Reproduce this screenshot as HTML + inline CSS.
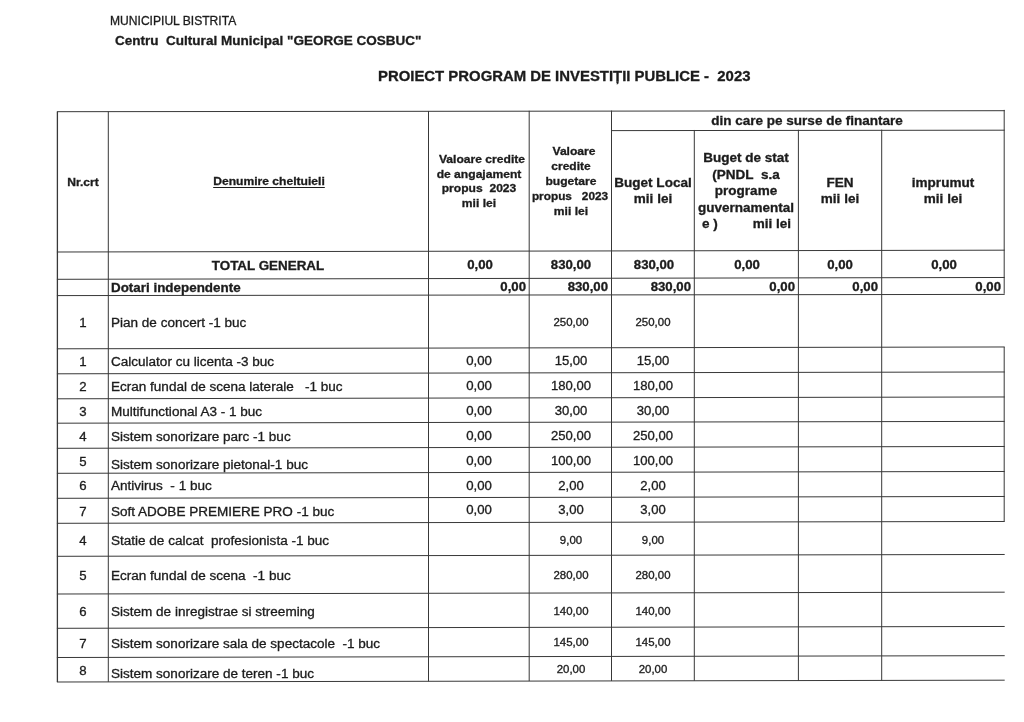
<!DOCTYPE html>
<html lang="ro">
<head>
<meta charset="utf-8">
<title>Proiect program de investitii publice - 2023</title>
<style>
html,body{margin:0;padding:0;background:#fff;}
body{width:1024px;height:722px;overflow:hidden;position:relative;font-family:"Liberation Sans",sans-serif;color:#1c1c1c;}
svg{position:absolute;left:0;top:0;}
#txt{position:absolute;left:0;top:0;width:1024px;height:722px;will-change:transform;}
.t{position:absolute;white-space:pre;line-height:normal;transform-origin:0 0;-webkit-text-stroke:0.3px #1c1c1c;}
</style>
</head>
<body>
<svg width="1024" height="722" viewBox="0 0 1024 722"><g stroke="#383838" fill="none" stroke-linecap="butt">
<line x1="56.90" y1="111.70" x2="1004.70" y2="110.70" stroke-width="1.0"/>
<line x1="611.50" y1="130.61" x2="1004.70" y2="130.20" stroke-width="1.0"/>
<line x1="56.90" y1="295.60" x2="1004.70" y2="294.40" stroke-width="1.0"/>
<line x1="56.90" y1="252.00" x2="1004.70" y2="250.18" stroke-width="1.0"/>
<line x1="56.90" y1="279.30" x2="1004.70" y2="277.48" stroke-width="1.0"/>
<line x1="56.90" y1="348.80" x2="1004.70" y2="346.98" stroke-width="1.0"/>
<line x1="56.90" y1="373.80" x2="1004.70" y2="371.98" stroke-width="1.0"/>
<line x1="56.90" y1="398.80" x2="1004.70" y2="396.98" stroke-width="1.0"/>
<line x1="56.90" y1="423.20" x2="1004.70" y2="421.38" stroke-width="1.0"/>
<line x1="56.90" y1="448.30" x2="1004.70" y2="446.48" stroke-width="1.0"/>
<line x1="56.90" y1="473.30" x2="1004.70" y2="471.48" stroke-width="1.0"/>
<line x1="56.90" y1="498.30" x2="1004.70" y2="496.48" stroke-width="1.0"/>
<line x1="56.90" y1="523.30" x2="1004.70" y2="521.48" stroke-width="1.0"/>
<line x1="56.90" y1="556.30" x2="1004.70" y2="554.48" stroke-width="1.0"/>
<line x1="56.90" y1="594.00" x2="1004.70" y2="592.18" stroke-width="1.0"/>
<line x1="56.90" y1="628.30" x2="1004.70" y2="626.48" stroke-width="1.0"/>
<line x1="56.90" y1="657.50" x2="1004.70" y2="655.68" stroke-width="1.0"/>
<line x1="56.90" y1="682.00" x2="1004.70" y2="680.18" stroke-width="1.0"/>
<line x1="57.40" y1="111.70" x2="57.40" y2="682.00" stroke-width="1.3"/>
<line x1="108.30" y1="111.60" x2="108.30" y2="681.90" stroke-width="1.0"/>
<line x1="428.50" y1="110.99" x2="428.50" y2="681.29" stroke-width="1.0"/>
<line x1="529.20" y1="110.79" x2="529.20" y2="681.09" stroke-width="1.0"/>
<line x1="611.50" y1="110.64" x2="611.50" y2="680.94" stroke-width="1.0"/>
<line x1="694.30" y1="129.98" x2="694.30" y2="680.78" stroke-width="1.0"/>
<line x1="798.40" y1="129.78" x2="798.40" y2="680.58" stroke-width="1.0"/>
<line x1="881.70" y1="129.62" x2="881.70" y2="680.42" stroke-width="1.0"/>
<line x1="1004.20" y1="109.88" x2="1004.20" y2="293.78" stroke-width="1.0"/>
<line x1="1004.20" y1="346.98" x2="1004.20" y2="521.48" stroke-width="1.0"/>
</g></svg>
<div id="txt">
<div class="t" style="left:110.0px;top:14.44px;font-size:12px;transform:scale(1.007,1.0)">MUNICIPIUL BISTRITA</div>
<div class="t" style="left:114.6px;top:33.23px;font-size:13px;font-weight:bold;transform:scale(1.04,1.0)">Centru  Cultural Municipal "GEORGE COSBUC"</div>
<div class="t" style="left:377.8px;top:68.13px;font-size:14px;font-weight:bold;transform:scale(1.064,1.0)">PROIECT PROGRAM DE INVESTIȚII PUBLICE -  2023</div>
<div class="t" style="left:83.2px;top:175.64px;font-size:11px;font-weight:bold;transform:scale(1.1,1.0) translateX(-50%)">Nr.crt</div>
<div class="t" style="left:269px;top:175.24px;font-size:11px;font-weight:bold;text-decoration:underline;text-underline-offset:2.2px;text-decoration-thickness:1px;transform:scale(1.1,1.0) translateX(-50%)">Denumire cheltuieli</div>
<div class="t" style="left:482px;top:152.64px;font-size:11px;font-weight:bold;transform:scale(1.1,1.0) translateX(-50%)">Valoare credite</div>
<div class="t" style="left:479px;top:167.54px;font-size:11px;font-weight:bold;transform:scale(1.1,1.0) translateX(-50%)">de angajament</div>
<div class="t" style="left:479px;top:182.44px;font-size:11px;font-weight:bold;transform:scale(1.1,1.0) translateX(-50%)">propus  2023</div>
<div class="t" style="left:478.8px;top:197.34px;font-size:11px;font-weight:bold;transform:scale(1.1,1.0) translateX(-50%)">mii lei</div>
<div class="t" style="left:573.5px;top:145.34px;font-size:11px;font-weight:bold;transform:scale(1.1,1.0) translateX(-50%)">Valoare</div>
<div class="t" style="left:570.8px;top:160.19px;font-size:11px;font-weight:bold;transform:scale(1.09,1.0) translateX(-50%)">credite</div>
<div class="t" style="left:571px;top:175.04px;font-size:11px;font-weight:bold;transform:scale(1.1,1.0) translateX(-50%)">bugetare</div>
<div class="t" style="left:569.9px;top:189.90px;font-size:11px;font-weight:bold;transform:scale(1.075,1.0) translateX(-50%)">propus   2023</div>
<div class="t" style="left:571px;top:204.75px;font-size:11px;font-weight:bold;transform:scale(1.1,1.0) translateX(-50%)">mii lei</div>
<div class="t" style="left:807.4px;top:114.07px;font-size:12.3px;font-weight:bold;transform:scale(1.1,1.0) translateX(-50%)">din care pe surse de finantare</div>
<div class="t" style="left:652.8px;top:176.07px;font-size:12.3px;font-weight:bold;transform:scale(1.1,1.0) translateX(-50%)">Buget Local</div>
<div class="t" style="left:652.8px;top:192.07px;font-size:12.3px;font-weight:bold;transform:scale(1.1,1.0) translateX(-50%)">mii lei</div>
<div class="t" style="left:746.2px;top:151.07px;font-size:12.3px;font-weight:bold;transform:scale(1.1,1.0) translateX(-50%)">Buget de stat</div>
<div class="t" style="left:745.5px;top:167.67px;font-size:12.3px;font-weight:bold;transform:scale(1.1,1.0) translateX(-50%)">(PNDL  s.a</div>
<div class="t" style="left:745.9px;top:184.27px;font-size:12.3px;font-weight:bold;transform:scale(1.1,1.0) translateX(-50%)">programe</div>
<div class="t" style="left:745.8px;top:200.87px;font-size:12.3px;font-weight:bold;transform:scale(1.1,1.0) translateX(-50%)">guvernamental</div>
<div class="t" style="left:702px;top:217.27px;font-size:12.3px;font-weight:bold;transform:scale(1.1,1.0)">e )</div>
<div class="t" style="left:790.6px;top:217.27px;font-size:12.3px;font-weight:bold;transform:scale(1.1,1.0) translateX(-100%)">mii lei</div>
<div class="t" style="left:839.9px;top:176.07px;font-size:12.3px;font-weight:bold;transform:scale(1.1,1.0) translateX(-50%)">FEN</div>
<div class="t" style="left:839.6px;top:192.07px;font-size:12.3px;font-weight:bold;transform:scale(1.1,1.0) translateX(-50%)">mii lei</div>
<div class="t" style="left:943.4px;top:176.07px;font-size:12.3px;font-weight:bold;transform:scale(1.1,1.0) translateX(-50%)">imprumut</div>
<div class="t" style="left:943.2px;top:192.07px;font-size:12.3px;font-weight:bold;transform:scale(1.1,1.0) translateX(-50%)">mii lei</div>
<div class="t" style="left:268.2px;top:258.56px;font-size:12.2px;font-weight:bold;transform:scale(1.1,1.0) translateX(-50%)">TOTAL GENERAL</div>
<div class="t" style="left:479.6px;top:258.04px;font-size:12px;font-weight:bold;transform:scale(1.1,1.0) translateX(-50%)">0,00</div>
<div class="t" style="left:570.9px;top:258.04px;font-size:12px;font-weight:bold;transform:scale(1.1,1.0) translateX(-50%)">830,00</div>
<div class="t" style="left:653.5px;top:258.04px;font-size:12px;font-weight:bold;transform:scale(1.1,1.0) translateX(-50%)">830,00</div>
<div class="t" style="left:746.8px;top:258.04px;font-size:12px;font-weight:bold;transform:scale(1.1,1.0) translateX(-50%)">0,00</div>
<div class="t" style="left:839.9px;top:258.04px;font-size:12px;font-weight:bold;transform:scale(1.1,1.0) translateX(-50%)">0,00</div>
<div class="t" style="left:943.5px;top:258.04px;font-size:12px;font-weight:bold;transform:scale(1.1,1.0) translateX(-50%)">0,00</div>
<div class="t" style="left:110.6px;top:280.76px;font-size:12.2px;font-weight:bold;transform:scale(1.1,1.0)">Dotari independente</div>
<div class="t" style="left:525.9px;top:280.44px;font-size:12px;font-weight:bold;transform:scale(1.1,1.0) translateX(-100%)">0,00</div>
<div class="t" style="left:608.1px;top:280.31px;font-size:12px;font-weight:bold;transform:scale(1.1,1.0) translateX(-100%)">830,00</div>
<div class="t" style="left:690.9px;top:280.19px;font-size:12px;font-weight:bold;transform:scale(1.1,1.0) translateX(-100%)">830,00</div>
<div class="t" style="left:794.9px;top:280.03px;font-size:12px;font-weight:bold;transform:scale(1.1,1.0) translateX(-100%)">0,00</div>
<div class="t" style="left:877.9px;top:279.90px;font-size:12px;font-weight:bold;transform:scale(1.1,1.0) translateX(-100%)">0,00</div>
<div class="t" style="left:1001.1px;top:279.71px;font-size:12px;font-weight:bold;transform:scale(1.1,1.0) translateX(-100%)">0,00</div>
<div class="t" style="left:82.6px;top:316.14px;font-size:12px;transform:scale(1.1,1.0) translateX(-50%)">1</div>
<div class="t" style="left:111.2px;top:316.14px;font-size:12px;transform:scale(1.127,1.0)">Pian de concert -1 buc</div>
<div class="t" style="left:571.0px;top:316.10px;font-size:10.5px;transform:scale(1.09,1.0) translateX(-50%)">250,00</div>
<div class="t" style="left:653.0px;top:316.10px;font-size:10.5px;transform:scale(1.09,1.0) translateX(-50%)">250,00</div>
<div class="t" style="left:82.6px;top:354.94px;font-size:12px;transform:scale(1.1,1.0) translateX(-50%)">1</div>
<div class="t" style="left:111.2px;top:354.94px;font-size:12px;transform:scale(1.127,1.0)">Calculator cu licenta -3 buc</div>
<div class="t" style="left:479.1px;top:354.24px;font-size:12px;transform:scale(1.1,1.0) translateX(-50%)">0,00</div>
<div class="t" style="left:571.0px;top:354.24px;font-size:12px;transform:scale(1.09,1.0) translateX(-50%)">15,00</div>
<div class="t" style="left:653.0px;top:354.24px;font-size:12px;transform:scale(1.09,1.0) translateX(-50%)">15,00</div>
<div class="t" style="left:82.6px;top:379.94px;font-size:12px;transform:scale(1.1,1.0) translateX(-50%)">2</div>
<div class="t" style="left:111.2px;top:379.94px;font-size:12px;transform:scale(1.127,1.0)">Ecran fundal de scena laterale   -1 buc</div>
<div class="t" style="left:479.1px;top:379.24px;font-size:12px;transform:scale(1.1,1.0) translateX(-50%)">0,00</div>
<div class="t" style="left:571.0px;top:379.24px;font-size:12px;transform:scale(1.09,1.0) translateX(-50%)">180,00</div>
<div class="t" style="left:653.0px;top:379.24px;font-size:12px;transform:scale(1.09,1.0) translateX(-50%)">180,00</div>
<div class="t" style="left:82.6px;top:404.74px;font-size:12px;transform:scale(1.1,1.0) translateX(-50%)">3</div>
<div class="t" style="left:111.2px;top:404.74px;font-size:12px;transform:scale(1.127,1.0)">Multifunctional A3 - 1 buc</div>
<div class="t" style="left:479.1px;top:404.14px;font-size:12px;transform:scale(1.1,1.0) translateX(-50%)">0,00</div>
<div class="t" style="left:571.0px;top:404.14px;font-size:12px;transform:scale(1.09,1.0) translateX(-50%)">30,00</div>
<div class="t" style="left:653.0px;top:404.14px;font-size:12px;transform:scale(1.09,1.0) translateX(-50%)">30,00</div>
<div class="t" style="left:82.6px;top:429.64px;font-size:12px;transform:scale(1.1,1.0) translateX(-50%)">4</div>
<div class="t" style="left:111.2px;top:429.64px;font-size:12px;transform:scale(1.127,1.0)">Sistem sonorizare parc -1 buc</div>
<div class="t" style="left:479.1px;top:428.74px;font-size:12px;transform:scale(1.1,1.0) translateX(-50%)">0,00</div>
<div class="t" style="left:571.0px;top:428.74px;font-size:12px;transform:scale(1.09,1.0) translateX(-50%)">250,00</div>
<div class="t" style="left:653.0px;top:428.74px;font-size:12px;transform:scale(1.09,1.0) translateX(-50%)">250,00</div>
<div class="t" style="left:82.6px;top:454.64px;font-size:12px;transform:scale(1.1,1.0) translateX(-50%)">5</div>
<div class="t" style="left:111.2px;top:458.44px;font-size:12px;transform:scale(1.127,1.0)">Sistem sonorizare pietonal-1 buc</div>
<div class="t" style="left:479.1px;top:453.74px;font-size:12px;transform:scale(1.1,1.0) translateX(-50%)">0,00</div>
<div class="t" style="left:571.0px;top:453.74px;font-size:12px;transform:scale(1.09,1.0) translateX(-50%)">100,00</div>
<div class="t" style="left:653.0px;top:453.74px;font-size:12px;transform:scale(1.09,1.0) translateX(-50%)">100,00</div>
<div class="t" style="left:82.6px;top:479.14px;font-size:12px;transform:scale(1.1,1.0) translateX(-50%)">6</div>
<div class="t" style="left:111.2px;top:479.14px;font-size:12px;transform:scale(1.127,1.0)">Antivirus  - 1 buc</div>
<div class="t" style="left:479.1px;top:478.64px;font-size:12px;transform:scale(1.1,1.0) translateX(-50%)">0,00</div>
<div class="t" style="left:571.0px;top:478.64px;font-size:12px;transform:scale(1.09,1.0) translateX(-50%)">2,00</div>
<div class="t" style="left:653.0px;top:478.64px;font-size:12px;transform:scale(1.09,1.0) translateX(-50%)">2,00</div>
<div class="t" style="left:82.6px;top:504.64px;font-size:12px;transform:scale(1.1,1.0) translateX(-50%)">7</div>
<div class="t" style="left:111.2px;top:504.64px;font-size:12px;transform:scale(1.127,1.0)">Soft ADOBE PREMIERE PRO -1 buc</div>
<div class="t" style="left:479.1px;top:503.04px;font-size:12px;transform:scale(1.1,1.0) translateX(-50%)">0,00</div>
<div class="t" style="left:571.0px;top:503.04px;font-size:12px;transform:scale(1.09,1.0) translateX(-50%)">3,00</div>
<div class="t" style="left:653.0px;top:503.04px;font-size:12px;transform:scale(1.09,1.0) translateX(-50%)">3,00</div>
<div class="t" style="left:82.6px;top:533.64px;font-size:12px;transform:scale(1.1,1.0) translateX(-50%)">4</div>
<div class="t" style="left:111.2px;top:533.64px;font-size:12px;transform:scale(1.127,1.0)">Statie de calcat  profesionista -1 buc</div>
<div class="t" style="left:571.0px;top:533.50px;font-size:10.5px;transform:scale(1.09,1.0) translateX(-50%)">9,00</div>
<div class="t" style="left:653.0px;top:533.50px;font-size:10.5px;transform:scale(1.09,1.0) translateX(-50%)">9,00</div>
<div class="t" style="left:82.6px;top:569.44px;font-size:12px;transform:scale(1.1,1.0) translateX(-50%)">5</div>
<div class="t" style="left:111.2px;top:569.44px;font-size:12px;transform:scale(1.127,1.0)">Ecran fundal de scena  -1 buc</div>
<div class="t" style="left:571.0px;top:569.30px;font-size:10.5px;transform:scale(1.09,1.0) translateX(-50%)">280,00</div>
<div class="t" style="left:653.0px;top:569.30px;font-size:10.5px;transform:scale(1.09,1.0) translateX(-50%)">280,00</div>
<div class="t" style="left:82.6px;top:605.44px;font-size:12px;transform:scale(1.1,1.0) translateX(-50%)">6</div>
<div class="t" style="left:111.2px;top:605.44px;font-size:12px;transform:scale(1.127,1.0)">Sistem de inregistrae si streeming</div>
<div class="t" style="left:571.0px;top:605.00px;font-size:10.5px;transform:scale(1.09,1.0) translateX(-50%)">140,00</div>
<div class="t" style="left:653.0px;top:605.00px;font-size:10.5px;transform:scale(1.09,1.0) translateX(-50%)">140,00</div>
<div class="t" style="left:82.6px;top:636.94px;font-size:12px;transform:scale(1.1,1.0) translateX(-50%)">7</div>
<div class="t" style="left:111.2px;top:636.94px;font-size:12px;transform:scale(1.127,1.0)">Sistem sonorizare sala de spectacole  -1 buc</div>
<div class="t" style="left:571.0px;top:636.30px;font-size:10.5px;transform:scale(1.09,1.0) translateX(-50%)">145,00</div>
<div class="t" style="left:653.0px;top:636.30px;font-size:10.5px;transform:scale(1.09,1.0) translateX(-50%)">145,00</div>
<div class="t" style="left:82.6px;top:663.64px;font-size:12px;transform:scale(1.1,1.0) translateX(-50%)">8</div>
<div class="t" style="left:111.2px;top:667.44px;font-size:12px;transform:scale(1.127,1.0)">Sistem sonorizare de teren -1 buc</div>
<div class="t" style="left:571.0px;top:663.30px;font-size:10.5px;transform:scale(1.09,1.0) translateX(-50%)">20,00</div>
<div class="t" style="left:653.0px;top:663.30px;font-size:10.5px;transform:scale(1.09,1.0) translateX(-50%)">20,00</div>
</div>
</body>
</html>
